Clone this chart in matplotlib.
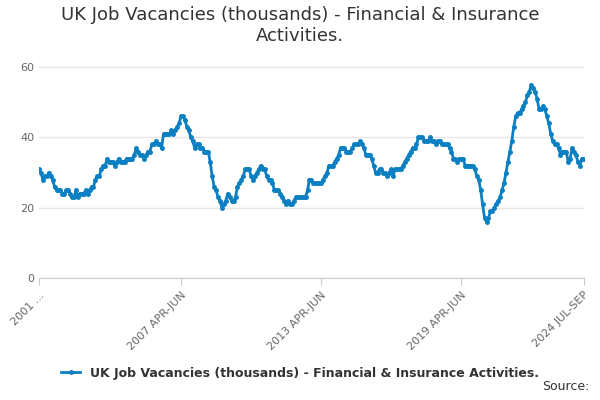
import matplotlib
matplotlib.use("Agg")
import matplotlib.pyplot as plt
from matplotlib.lines import Line2D

values = [31,30,28,29,29,30,29,28,26,25,
 25,25,24,24,25,25,24,23,23,25,23,24,
 24,24,25,24,25,26,26,28,29,29,31,32,
 32,34,33,33,33,32,33,34,33,33,33,34,
 34,34,34,35,37,36,35,35,34,35,36,36,
 38,38,39,38,38,37,41,41,41,41,42,41,
 42,43,44,46,46,45,43,42,40,39,37,38,
 38,37,37,36,36,36,33,29,26,25,23,22,
 20,21,22,24,23,22,22,23,26,27,28,29,
 31,31,31,29,28,29,30,31,32,31,31,29,
 28,28,27,25,25,25,24,23,22,21,22,21,
 21,22,23,23,23,23,23,23,25,28,28,27,
 27,27,27,27,28,29,30,32,32,32,33,34,
 35,37,37,37,36,36,36,37,38,38,38,39,
 38,37,35,35,35,34,32,30,30,31,31,30,
 30,29,30,31,29,31,31,31,31,32,33,34,
 35,36,37,37,38,40,40,40,39,39,39,40,
 39,39,38,39,39,38,38,38,38,37,36,34,
 34,33,34,34,34,32,32,32,32,32,31,29,
 28,25,21,17,16,17,19,19,20,21,22,23,
 25,27,30,33,36,39,43,46,47,47,48,49,
 50,52,53,55,54,53,51,48,48,49,48,46,
 44,41,39,38,38,37,35,36,36,36,33,34,
 37,36,35,33,32,34,34]
tick_idx = [0, 73, 145, 217, 280]
tick_labels = ["2001 ...", "2007 APR-JUN", "2013 APR-JUN", "2019 APR-JUN", "2024 JUL-SEP"]
title = "UK Job Vacancies (thousands) - Financial & Insurance Activities."
color = "#0a7fc2"

fig = plt.figure(figsize=(6, 4), dpi=100)
ax = fig.add_axes([0.065, 0.305, 0.908, 0.571])
x = list(range(len(values)))
ax.plot(x, values, color=color, lw=2, marker="o", ms=2.5)
ax.set_ylim(0, 65)
ax.set_yticks([0, 20, 40, 60])
ax.set_xlim(0, len(values) - 1)
ax.set_xticks(tick_idx)
ax.set_xticklabels(tick_labels, rotation=45, ha="right", rotation_mode="anchor")
ax.tick_params(axis="both", colors="#666666", labelsize=8, length=0)
ax.tick_params(axis="x", length=5, color="#cccccc")
ax.grid(axis="y", color="#e6e6e6", lw=1)
for s in ["top", "right", "left"]:
    ax.spines[s].set_visible(False)
ax.spines["bottom"].set_color("#cccccc")
fig.text(0.5, 0.985, "UK Job Vacancies (thousands) - Financial & Insurance\nActivities.",
         ha="center", va="top", fontsize=13, color="#333333")
h = Line2D([], [], color=color, lw=2, marker="o", ms=2.5)
fig.legend([h], [title], loc="center", bbox_to_anchor=(0.5, 0.067), frameon=False,
           prop={"weight": "bold", "size": 9}, labelcolor="#333333", handlelength=1.5)
fig.text(0.982, 0.025, "Source:", ha="right", fontsize=9, color="#333333")
fig.savefig("out.png")
